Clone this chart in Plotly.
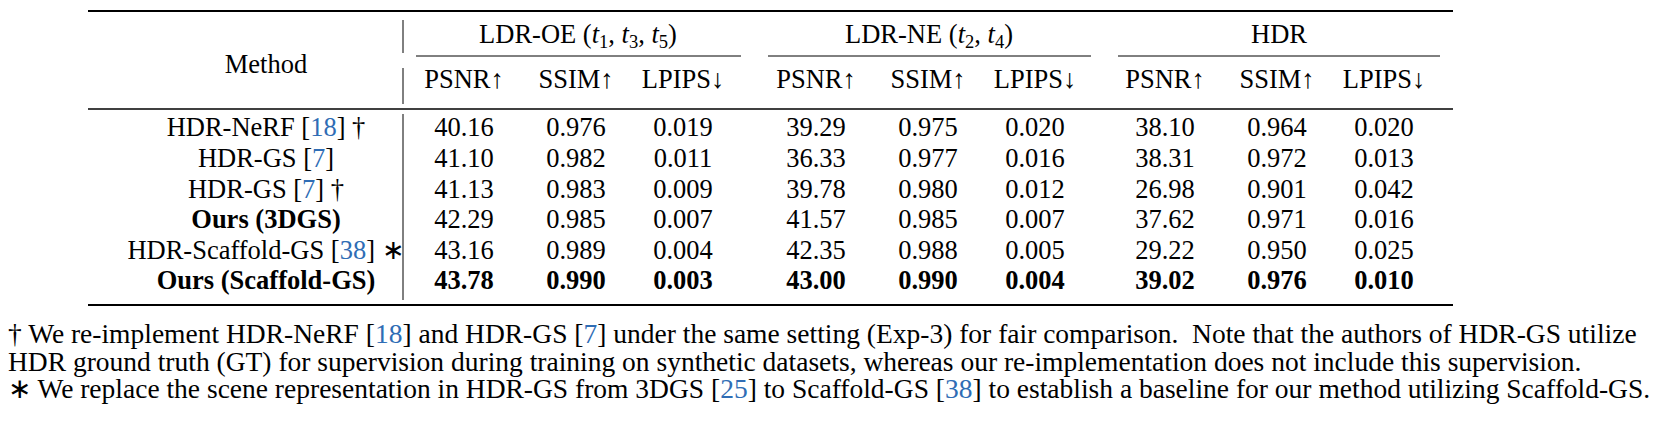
import plotly.graph_objects as go

C = "<span style='color:#2f6db5'>{}</span>"
methods = ["HDR-NeRF [" + C.format(18) + "] †", "HDR-GS [" + C.format(7) + "]",
           "HDR-GS [" + C.format(7) + "] †", "<b>Ours (3DGS)</b>",
           "HDR-Scaffold-GS [" + C.format(38) + "] ∗", "<b>Ours (Scaffold-GS)</b>"]
groups = ["LDR-OE (<i>t</i><sub>1</sub>, <i>t</i><sub>3</sub>, <i>t</i><sub>5</sub>)",
          "LDR-NE (<i>t</i><sub>2</sub>, <i>t</i><sub>4</sub>)", "HDR"]
metrics = ["PSNR↑", "SSIM↑", "LPIPS↓"]
values = [
    ["40.16", "0.976", "0.019", "39.29", "0.975", "0.020", "38.10", "0.964", "0.020"],
    ["41.10", "0.982", "0.011", "36.33", "0.977", "0.016", "38.31", "0.972", "0.013"],
    ["41.13", "0.983", "0.009", "39.78", "0.980", "0.012", "26.98", "0.901", "0.042"],
    ["42.29", "0.985", "0.007", "41.57", "0.985", "0.007", "37.62", "0.971", "0.016"],
    ["43.16", "0.989", "0.004", "42.35", "0.988", "0.005", "29.22", "0.950", "0.025"],
    ["43.78", "0.990", "0.003", "43.00", "0.990", "0.004", "39.02", "0.976", "0.010"],
]
bold_rows = [5]
footnotes = [
    "† We re-implement HDR-NeRF [" + C.format(18) + "] and HDR-GS [" + C.format(7) + "] under the same setting (Exp-3) for fair comparison.  Note that the authors of HDR-GS utilize",
    "HDR ground truth (GT) for supervision during training on synthetic datasets, whereas our re-implementation does not include this supervision.",
    "∗ We replace the scene representation in HDR-GS from 3DGS [" + C.format(25) + "] to Scaffold-GS [" + C.format(38) + "] to establish a baseline for our method utilizing Scaffold-GS.",
]

col_x = [456, 568, 675, 808, 920, 1027, 1157, 1269, 1376]
group_x = [570, 921, 1271]
row_y = [121, 152, 183, 213, 244, 274]
FONT = "Liberation Serif"

fig = go.Figure()
xs, ys, ts = [], [], []
for r, row in enumerate(values):
    for c, v in enumerate(row):
        xs.append(col_x[c]); ys.append(row_y[r])
        ts.append(f"<b>{v}</b>" if r in bold_rows else v)
    xs.append(258); ys.append(row_y[r]); ts.append(methods[r])
for g in range(3):
    xs.append(group_x[g]); ys.append(28); ts.append(groups[g])
    for m in range(3):
        xs.append(col_x[g * 3 + m]); ys.append(73); ts.append(metrics[m])
xs.append(258); ys.append(58); ts.append("Method")
fig.add_trace(go.Scatter(x=xs, y=ys, text=ts, mode="text", textposition="middle center",
                         textfont=dict(family=FONT, size=26.5, color="black"), hoverinfo="skip"))
fig.add_trace(go.Scatter(x=[0, 0, 0], y=[328, 356, 383], text=footnotes, mode="text",
                         textposition="middle right",
                         textfont=dict(family=FONT, size=27.5, color="black"), hoverinfo="skip"))

def hline(x0, x1, y, w):
    fig.add_shape(type="line", x0=x0, x1=x1, y0=y, y1=y, line=dict(color="black", width=w))
hline(80, 1445, 3, 2.2)
hline(80, 1445, 101, 1.3)
hline(80, 1445, 297, 2.2)
for a, b in [(408, 733), (760, 1083), (1110, 1432)]:
    hline(a, b, 48, 1)
for y0, y1 in [(12, 45), (60, 96), (106, 292)]:
    fig.add_shape(type="line", x0=395, x1=395, y0=y0, y1=y1, line=dict(color="black", width=1))

fig.update_layout(width=1668, height=438, margin=dict(l=0, r=0, t=0, b=0),
                  plot_bgcolor="white", paper_bgcolor="white", showlegend=False,
                  xaxis=dict(range=[0, 1668], visible=False, fixedrange=True),
                  yaxis=dict(range=[438, 0], visible=False, fixedrange=True))
fig.write_html("out.html")
